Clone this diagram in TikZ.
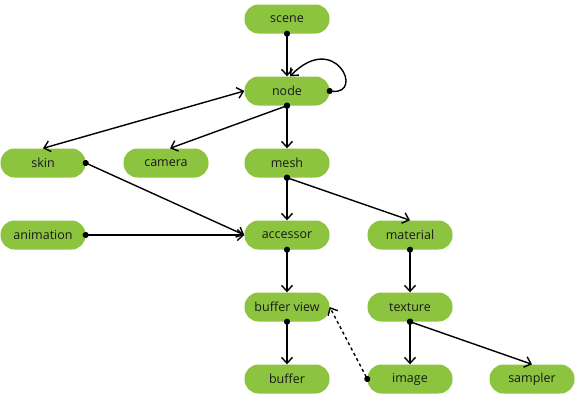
\documentclass[tikz,border=0pt]{standalone}
\usepackage{fontspec}
\setmainfont{Open Sans}
\usetikzlibrary{arrows.meta, positioning}
\definecolor{leaf}{RGB}{140,196,64}

\begin{document}
\begin{tikzpicture}[
    x=1pt, y=-1pt,
    box/.style={fill=leaf, rounded corners=14pt, minimum width=85pt, minimum height=29pt,
                inner sep=0pt, font=\fontsize{12.5}{14}\selectfont, text=black!90},
    arr/.style={{Circle[length=6pt]}-{Straight Barb[length=6pt, width=11pt]},
                line width=1.4pt, shorten <=-3pt},
    both/.style={{Straight Barb[length=6pt, width=11pt]}-{Straight Barb[length=6pt, width=11pt]},
                line width=1.4pt}
  ]
  \useasboundingbox (0,0) rectangle (583,402);

  % Top levels
  \node[box] (scene) at (287, 19) {scene};
  \node[box] (node) at (287, 91) {node};

  % Row 3
  \node[box] (skin) at (43, 163) {skin};
  \node[box] (camera) at (166, 163) {camera};
  \node[box] (mesh) at (287, 163) {mesh};

  % Row 4
  \node[box] (animation) at (43, 235) {animation};
  \node[box] (accessor) at (287, 235) {accessor};
  \node[box] (material) at (410, 235) {material};

  % Row 5
  \node[box] (bufview) at (287, 307) {buffer view};
  \node[box] (texture) at (410, 307) {texture};

  % Bottom level
  \node[box] (buffer) at (287, 379) {buffer};
  \node[box] (image) at (410, 379) {image};
  \node[box] (sampler) at (532, 379) {sampler};

  % Arrows
  \draw[arr] (scene.south) -- (node.north);
  \draw[arr] (node.east) .. controls (365, 95) and (335, 30) .. ([xshift=3pt]node.north);
  \draw[both] (skin.north) -- (node.west);
  \draw[arr] (node.south) -- ([xshift=4pt]camera.north);
  \draw[arr] (node.south) -- (mesh.north);
  \draw[arr] (skin.east) -- (accessor.west);
  \draw[arr] (animation.east) -- (accessor.west);
  \draw[arr] (mesh.south) -- (accessor.north);
  \draw[arr] (mesh.south) -- (material.north);
  \draw[arr] (accessor.south) -- (bufview.north);
  \draw[arr] (bufview.south) -- (buffer.north);
  \draw[arr] (material.south) -- (texture.north);
  \draw[arr] (texture.south) -- (image.north);
  \draw[arr] (texture.south) -- (sampler.north);
  \draw[arr, dashed] (image.west) -- (bufview.east);

\end{tikzpicture}
\end{document}
